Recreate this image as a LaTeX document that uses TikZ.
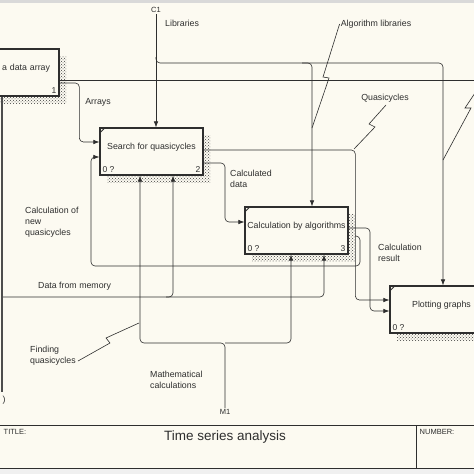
\documentclass[tikz,border=0pt]{standalone}
\usepackage{fontspec}
\setmainfont{Liberation Sans}
\usetikzlibrary{arrows.meta,shadows,patterns}
\definecolor{paper}{HTML}{FCFAF1}
\definecolor{ink}{HTML}{2E2E2E}

\begin{document}
\begin{tikzpicture}[x=1pt,y=-1pt,
 act/.style={draw=ink,line width=1.3pt,fill=paper,minimum width=103pt,minimum height=47pt,inner sep=0pt,
  text height=6.5pt,text depth=11pt,font=\fontsize{8.8}{10}\selectfont,text=ink,
  drop shadow={shadow xshift=7pt,shadow yshift=-7pt,opacity=1,pattern=crosshatch dots,pattern color=black!75}},
 flow/.style={draw=ink,line width=.6pt,rounded corners=4pt,-{Latex[length=6pt,width=4.5pt]}},
 wire/.style={draw=ink,line width=.6pt,rounded corners=4pt},
 zig/.style={draw=ink,line width=.6pt},
 lbl/.style={font=\fontsize{8.8}{11}\selectfont,text=ink,align=left,inner sep=0pt},
 num/.style={font=\fontsize{8.5}{10}\selectfont,text=ink,inner sep=3pt},
 tag/.style={font=\fontsize{7.5}{9}\selectfont,text=ink,inner sep=1.5pt}]
 \clip (0,0) rectangle (474,474);
 \fill[paper] (0,0) rectangle (474,474);
 \fill[gray!30] (0,0) rectangle (474,3);
 \fill[gray!12] (0,469) rectangle (474,474);
 % activity boxes
 \node[act,align=right,text width=85pt] (A) at (7.5,72.5) {a data array};
 \node[act] (B) at (151.5,151.5) {Search for quasicycles};
 \node[act] (C) at (296.5,230.5) {Calculation by algorithms};
 \node[act] (D) at (441.5,309.5) {Plotting graphs};
 \foreach \b in {B,C,D}{\draw[ink,line width=.8pt] ([yshift=-6pt]\b.north west) -- ([xshift=6pt]\b.north west);}
 \node[num,anchor=south east] (A1) at (A.south east) {1};
 \node[num,anchor=south west] (B0) at (B.south west) {0 ?};
 \node[num,anchor=south east] (B2) at (B.south east) {2};
 \node[num,anchor=south west] (C0) at (C.south west) {0 ?};
 \node[num,anchor=south east] (C3) at (C.south east) {3};
 \node[num,anchor=south west] (D0) at (D.south west) {0 ?};
 % left edge
 \draw[ink!85,line width=2pt] (1.5,97) -- (1.5,392);
 \node[lbl] (paren) at (4,400) {)};
 % controls
 \coordinate (c1) at (156,14);
 \node[tag,above] (c1lab) at (c1) {C1};
 \node[lbl,anchor=west] (libs) at (165,23) {Libraries};
 \draw[flow] (c1) -- (c1 |- B.north);
 \coordinate (c1j) at (156,57);
 \coordinate (libR) at (443,63);
 \coordinate (libC) at (312,63);
 \draw[flow] (c1j) |- (libR) -- (libR |- D.north);
 \draw[flow] ([xshift=-10pt]libC) -- (libC) -- (libC |- C.north);
 \node[lbl] (alglib) at (376,24) {Algorithm libraries};
 \draw[zig] ([xshift=-1pt]alglib.west) -- (323,77) -- (329,78) -- (312,128);
 \draw[zig] (443,160) -- (471,108) -- (465,108) -- (477,90);
 % outputs of A
 \draw[wire] ([yshift=-7.5pt]A.east) -- ++(425,0);
 \coordinate (arrIn) at ([yshift=9.5pt]B.west);
 \draw[flow] ([yshift=-10.5pt]A.east) -| ([xshift=-20pt]arrIn) -- (arrIn);
 \node[lbl] (arrays) at (98,102) {Arrays};
 % outputs of B
 \coordinate (qIn) at ([yshift=9.5pt]D.west);
 \draw[flow] ([yshift=1.5pt]B.east) -| ([xshift=-34pt]qIn) -- (qIn);
 \node[lbl] (quasi) at (385,98) {Quasicycles};
 \draw[zig] (386,105) -- (369,124) -- (375,127) -- (354,149);
 \coordinate (fbj) at (355,236);
 \coordinate (fbIn) at ([yshift=-5.5pt]B.west);
 \draw[flow] (fbj) -- (360,236) -- (360,266) -- (91,266) -- (91,157) -- (fbIn);
 \node[lbl,anchor=west] (newq) at (25,222) {Calculation of\\new\\quasicycles};
 \draw[flow] ([yshift=-11.5pt]B.east) -- (225,163) -- (225,222) -- ([yshift=8.5pt]C.west);
 \node[lbl,anchor=west] (cdata) at (230,179) {Calculated\\data};
 % output of C
 \draw[flow] ([yshift=2.5pt]C.east) -- (370,228) -- (370,311) -- ([yshift=-1.5pt]D.west);
 \node[lbl,anchor=west] (cres) at (378,253) {Calculation\\result};
 % mechanisms
 \coordinate (mem) at (3,297);
 \draw[flow] (mem) -| ([xshift=27.5pt]C.south);
 \draw[flow] (166,297) -| ([xshift=21.5pt]B.south);
 \node[lbl,anchor=west] (memlab) at (38,286) {Data from memory};
 \coordinate (m1) at (225,408);
 \node[tag,below] (m1lab) at (m1) {M1};
 \coordinate (m1j) at (225,343);
 \draw[flow] (m1) -- (m1j) -| ([xshift=-11.5pt]B.south);
 \draw[flow] (m1j) -| ([xshift=-5.5pt]C.south);
 \node[lbl,anchor=west] (math) at (150,380) {Mathematical\\calculations};
 \node[lbl,anchor=west] (findq) at (30,356) {Finding\\quasicycles};
 \draw[zig] (78,361) -- (110,343) -- (106,338) -- (139,323);
 % title block
 \draw[ink,line width=.8pt] (0,425) -- (474,425) (0,468) -- (474,468) (416,425) -- (416,468);
 \node[tag,anchor=north west] (ttl) at (2,428) {TITLE:};
 \node[font=\fontsize{13.5}{16}\selectfont,text=ink] (name) at (225,437) {Time series analysis};
 \node[tag,anchor=north west] (nbr) at (418,428) {NUMBER:};
\end{tikzpicture}
\end{document}
